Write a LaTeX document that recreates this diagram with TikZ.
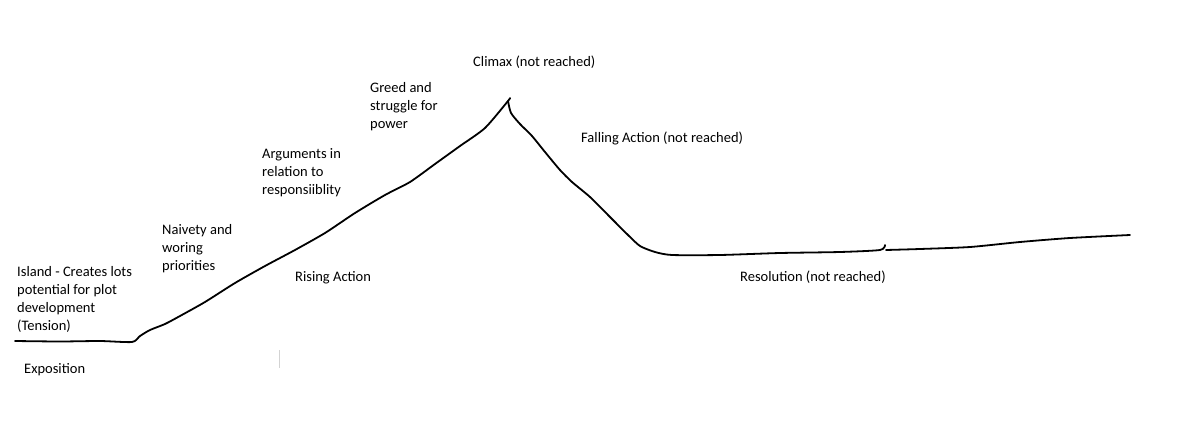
\documentclass[tikz,border=0pt]{standalone}
\usepackage{fontspec}
\setmainfont{Carlito}
\usepackage[svgnames]{xcolor}
\usepackage{tikz}

\begin{document}
\begin{tikzpicture}[x=1pt,y=-1pt]
        \tikzset{
            arc line/.style={line width=1.8pt,color=black,line cap=round,line join=round},
            stage/.style={anchor=west,inner sep=0pt,align=left,font=\fontsize{14.5}{18}\selectfont},
        }
        \useasboundingbox (0,0) rectangle (1200,423);

        % exposition and rising action
        \draw[arc line] plot[smooth,tension=0.4] coordinates {
            (15,341) (60,341.5) (100,341) (132,342) (140,336) (150,330) (165,324) (180,316)
            (205,302) (235,283) (265,266) (295,250) (325,233) (355,213) (385,195)
            (410,182) (435,164) (460,146) (485,128) (508,101) (510,98)};
        % falling action
        \draw[arc line] plot[smooth,tension=0.4] coordinates {
            (508,101) (511,113) (520,124) (532,136) (545,152) (560,170) (572,182)
            (590,197) (610,217) (628,235) (640,246) (655,252) (672,255) (720,255)
            (780,253) (840,252) (880,250) (885,245)};
        % resolution
        \draw[arc line] plot[smooth,tension=0.4] coordinates {
            (886,250) (920,249) (970,247) (1020,242) (1070,238) (1130,235)};

        \draw[LightGray,line width=1pt] (279,350) -- (279,368);

        \node[stage] (island) at (17,299) {Island - Creates lots\\potential for plot\\development\\(Tension)};
        \node[stage] (exposition) at (24,370) {Exposition};
        \node[stage] (naivety) at (162,249) {Naivety and\\woring\\priorities};
        \node[stage] (arguments) at (262,173) {Arguments in\\relation to\\responsiiblity};
        \node[stage] (greed) at (370,107) {Greed and\\struggle for\\power};
        \node[stage] (rising) at (295,278) {Rising Action};
        \node[stage] (climax) at (473,62) {Climax (not reached)};
        \node[stage] (falling) at (581,138) {Falling Action (not reached)};
        \node[stage] (resolution) at (740,277) {Resolution (not reached)};
    \end{tikzpicture}
\end{document}
